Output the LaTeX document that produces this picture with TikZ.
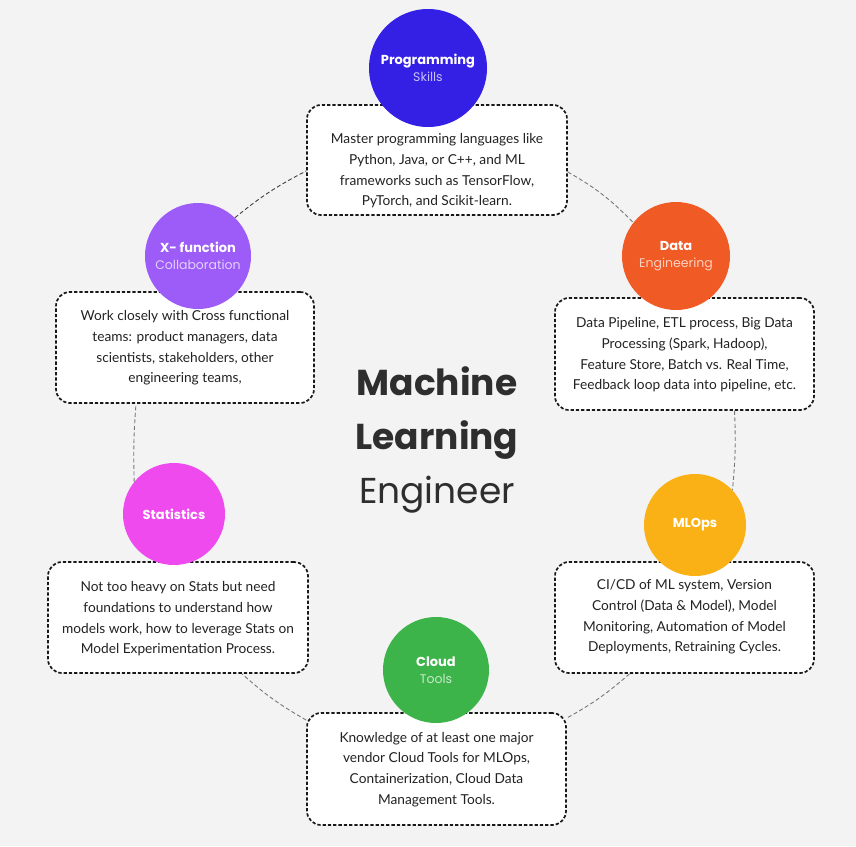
\documentclass[tikz,border=0pt]{standalone}
\usepackage{fontspec}
\setmainfont{Lato}
\newfontfamily\popfont{Poppins}
\usetikzlibrary{calc}
\definecolor{bgc}{HTML}{F3F3F3}
\definecolor{txt}{HTML}{222222}
\definecolor{cprog}{HTML}{3420E4}
\definecolor{cdata}{HTML}{F05A24}
\definecolor{cmlops}{HTML}{F9B115}
\definecolor{ccloud}{HTML}{3DB449}
\definecolor{cstats}{HTML}{EE4AEE}
\definecolor{cxf}{HTML}{9D5CF7}
\definecolor{conn}{HTML}{777777}
\tikzset{
  infobox/.style={draw=black!90, line width=1.7pt, dash pattern=on 3.3pt off 2pt,
    fill=white, rounded corners=14pt, inner sep=0pt},
  bodytext/.style={align=center, text=txt, font=\fontsize{13.7}{20.7}\selectfont, inner sep=0pt},
  skill/.style={circle, inner sep=0pt, align=center, text=white,
    font=\popfont\fontsize{13}{16.5}\selectfont},
  link/.style={draw=conn, line width=0.9pt, dash pattern=on 4pt off 2.5pt},
}
\newcommand{\ttl}[1]{{\bfseries #1}}
\newcommand{\sub}[2]{{\color{white!72!#2}\fontsize{12.5}{16}\selectfont #1}}
\begin{document}
\begin{tikzpicture}[x=1pt,y=-1pt]
\useasboundingbox (0,0) rectangle (856,846);
\fill[bgc] (0,0) rectangle (856,846);

% boxes
\node[infobox, minimum width=260pt, minimum height=110pt] (pbox) at (437,160) {};
\node[infobox, minimum width=259pt, minimum height=112pt] (dbox) at (684.5,354) {};
\node[infobox, minimum width=259pt, minimum height=111pt] (mbox) at (684.5,617.5) {};
\node[infobox, minimum width=259pt, minimum height=112pt] (cbox) at (436.5,769) {};
\node[infobox, minimum width=260pt, minimum height=111pt] (sbox) at (178,617.5) {};
\node[infobox, minimum width=258pt, minimum height=111pt] (xbox) at (185,347.5) {};

% box texts
\node[bodytext] (ptext) at (437,171) {Master programming languages like\\Python, Java, or C++, and ML\\frameworks such as TensorFlow,\\PyTorch, and Scikit-learn.};
\node[bodytext] (dtext) at (684.5,355) {Data Pipeline, ETL process, Big Data\\Processing (Spark, Hadoop),\\Feature Store, Batch vs. Real Time,\\Feedback loop data into pipeline, etc.};
\node[bodytext] (mtext) at (684.5,617) {CI/CD of ML system, Version\\Control (Data \& Model), Model\\Monitoring, Automation of Model\\Deployments, Retraining Cycles.};
\node[bodytext] (ctext) at (436.5,769.5) {Knowledge of at least one major\\vendor Cloud Tools for MLOps,\\Containerization, Cloud Data\\Management Tools.};
\node[bodytext] (stext) at (178,619) {Not too heavy on Stats but need\\foundations to understand how\\models work, how to leverage Stats on\\Model Experimentation Process.};
\node[bodytext] (xtext) at (185,348) {Work closely with Cross functional\\teams: product managers, data\\scientists, stakeholders, other\\engineering teams,};

% circles
\node[skill, fill=cprog, minimum size=118pt] (prog) at (428,68) {\ttl{Programming}\\\sub{Skills}{cprog}};
\node[skill, fill=cdata, minimum size=108pt] (data) at (676,256) {\ttl{Data}\\\sub{Engineering}{cdata}};
\node[skill, fill=cmlops, minimum size=102pt] (mlops) at (695,525) {\ttl{MLOps}};
\node[skill, fill=ccloud, minimum size=106pt] (cloud) at (436,670) {\ttl{Cloud}\\\sub{Tools}{ccloud}};
\node[skill, fill=cstats, minimum size=102pt] (stats) at (174,514) {\ttl{Statistics}};
\node[skill, fill=cxf, minimum size=106pt] (xf) at (198,256) {\ttl{X- function}\\\sub{Collaboration}{cxf}};

% connectors (clockwise)
\draw[link] ($(pbox.east)+(0,12)$) to[bend left=8] (data.142);
\draw[link] ($(dbox.south)+(50,0)$) to[bend left=4] (mlops.43);
\draw[link] ($(mbox.south)+(-55,0)$) to[bend left=6] ($(cbox.east)+(0,-51)$);
\draw[link] ($(cbox.west)+(0,-49)$) to[bend left=6] ($(sbox.south)+(64,0)$);
\draw[link] (stats.141) to[bend left=3] ($(xbox.south)+(-49,0)$);
\draw[link, draw=black!75] (xf.46) to[bend left=6] ($(pbox.west)+(0,11)$);

% centre title
\node[align=center, text=black!82, inner sep=0pt, font=\popfont\fontsize{36}{54}\selectfont] (title) at (437,440)
  {\bfseries Machine\\\bfseries Learning\\Engineer};
\end{tikzpicture}
\end{document}
